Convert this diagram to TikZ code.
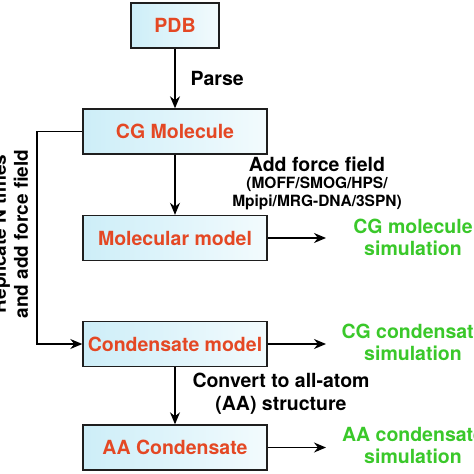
\documentclass[tikz,border=0pt]{standalone}
\usepackage{fontspec}
\setmainfont{TeX Gyre Heros}
\usetikzlibrary{arrows.meta}
\definecolor{stepRed}{RGB}{228,72,36}
\definecolor{simGreen}{RGB}{58,200,42}
\definecolor{boxCyan}{RGB}{205,238,248}
\definecolor{edgeGray}{RGB}{30,30,30}

\tikzset{
  stage/.style={draw=edgeGray,line width=1.4pt,left color=boxCyan,right color=boxCyan!25,
    minimum width=184pt,minimum height=45pt,inner sep=0pt,text=stepRed,
    font=\fontsize{19.5}{21}\selectfont\bfseries},
  flow/.style={line width=1.3pt,-{Stealth[length=12pt,width=10pt]}},
  note/.style={font=\fontsize{19.5}{23}\selectfont\bfseries,align=center,inner sep=0pt},
  simlabel/.style={note,text=simGreen,font=\fontsize{19.5}{22}\selectfont\bfseries}
}

\begin{document}
\begin{tikzpicture}[x=1pt,y=-1pt]
\useasboundingbox (0,0) rectangle (474,474);
% boxes
\node[stage,minimum width=88pt] (pdb) at (175,25.5) {PDB};
\node[stage] (cgmol) at (175,131.5) {CG Molecule};
\node[stage] (molmodel) at (175,238) {Molecular model};
\node[stage] (condmodel) at (175,344) {Condensate model};
\node[stage] (aacond) at (175,447.5) {AA Condensate};
% simulation outputs
\node[simlabel] (molsim) at (413,237) {CG molecule\\simulation};
\node[simlabel] (condsim) at (413,342) {CG condensate\\simulation};
\node[simlabel] (aasim) at (413,445) {AA condensate\\simulation};
\coordinate (molend) at (326,238);
\coordinate (condend) at (326,344);
\coordinate (aaend) at (326,447.5);
\coordinate (leftup) at (37,131.5);
\coordinate (leftdown) at (37,344);
% arrows
\draw[flow] (pdb) -- (cgmol) node[note,midway,anchor=west,xshift=15pt] (parse) {Parse};
\draw[flow] (cgmol) -- (molmodel);
\draw[flow] (condmodel) -- (aacond);
\draw[flow] (cgmol.west) -- (leftup) -- (leftdown) -- (condmodel.west);
\draw[flow] (molmodel.east) -- (molend);
\draw[flow] (condmodel.east) -- (condend);
\draw[flow] (aacond.east) -- (aaend);
% labels
\node[note,font=\fontsize{15.5}{17.5}\selectfont\bfseries] (ffield) at (317,183)
  {{\fontsize{19.5}{19.5}\selectfont Add force field}\\(MOFF/SMOG/HPS/\\Mpipi/MRG-DNA/3SPN)};
\node[note] (convert) at (281,393.5) {Convert to all-atom\\(AA) structure};
\node[note,font=\fontsize{19}{22}\selectfont\bfseries,rotate=90] (replicate) at (10,234)
  {Replicate N times\\and add force field};
\end{tikzpicture}
\end{document}
